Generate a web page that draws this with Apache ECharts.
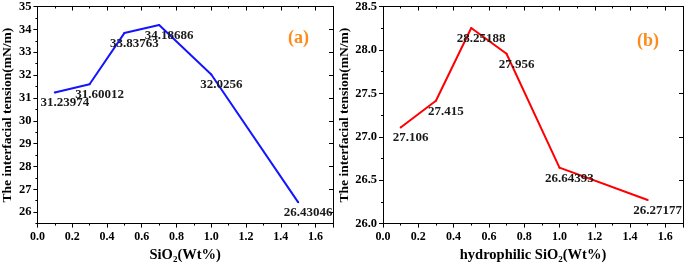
<!DOCTYPE html>
<html>
<head>
<meta charset="utf-8">
<script src="https://cdn.jsdelivr.net/npm/echarts@6/dist/echarts.min.js"></script>
<style>
  html, body { margin: 0; padding: 0; background: #fff; }
  #main { width: 685px; height: 269px; }
</style>
</head>
<body>
<div id="main"></div>
<script>
// SiO2 loading (Wt%)
const loading = [0.1, 0.3, 0.5, 0.7, 1.0, 1.5]
// interfacial tension (mN/m)
const tensionA = [31.23974, 31.60012, 33.83763, 34.18686, 32.0256, 26.43046]
const tensionB = [27.106, 27.415, 28.25188, 27.956, 26.64393, 26.27177]
// tick labels
const xTicks = [0, 0.2, 0.4, 0.6, 0.8, 1.0, 1.2, 1.4, 1.6]
const yTicksA = [26, 27, 28, 29, 30, 31, 32, 33, 34, 35]
const yTicksB = [26.0, 26.5, 27.0, 27.5, 28.0, 28.5]

const font = 'Liberation Serif, Times New Roman, serif'
const black = '#000'

let pairsA = loading.map((x, i) => [x, tensionA[i]])
let pairsB = loading.map((x, i) => [x, tensionB[i]])

function xAxisPair (grid, name) {
  let common = {
    type: 'value',
    gridIndex: grid,
    min: 0,
    max: 1.7,
    interval: 0.2,
    splitLine: { show: false },
    axisLine: { show: true, onZero: false, lineStyle: { color: black, width: 1 } },
    minorTick: { show: true, splitNumber: 2, length: 2, lineStyle: { color: black } }
  }
  return [
    Object.assign({}, common, {
      position: 'bottom',
      name: name,
      nameLocation: 'middle',
      nameGap: 21,
      nameTextStyle: {
        fontFamily: font,
        fontWeight: 'bold',
        fontSize: 14,
        color: black,
        rich: {
          t: { fontFamily: font, fontWeight: 'bold', fontSize: 14.5, color: black },
          s: { fontFamily: font, fontWeight: 'bold', fontSize: 9, color: black, padding: [9, 0, 0, 0] }
        }
      },
      axisTick: { show: true, inside: false, length: 4, lineStyle: { color: black } },
      axisLabel: {
        customValues: xTicks,
        margin: 7,
        fontFamily: font,
        fontWeight: 'bold',
        fontSize: 12,
        color: black,
        formatter: v => v.toFixed(1)
      }
    }),
    Object.assign({}, common, {
      position: 'top',
      axisTick: { show: true, inside: true, length: 4, lineStyle: { color: black } },
      minorTick: { show: true, splitNumber: 2, length: 2, lineStyle: { color: black } },
      axisLabel: { show: false }
    })
  ]
}

let yName = 'The interfacial tension(mN/m)'
let yNameStyle = { fontFamily: font, fontWeight: 'bold', fontSize: 13.5, color: black }
let yLabelStyle = { fontFamily: font, fontWeight: 'bold', fontSize: 12.5, color: black, margin: 6 }

function valueLabel () {
  return {
    show: true,
    position: 'bottom',
    distance: 3,
    offset: [10, 0],
    fontFamily: font,
    fontWeight: 'bold',
    fontSize: 13,
    color: '#1a1a1a',
    formatter: p => String(p.value[1])
  }
}

let option = {
  animation: false,
  backgroundColor: '#fff',
  grid: [
    { left: 35, right: 352, top: 5, bottom: 36 },
    { left: 383, right: 2, top: 5, bottom: 36 }
  ],
  xAxis: [
    ...xAxisPair(0, '{t|SiO}{s|2}{t|(Wt%)}'),
    ...xAxisPair(1, '{t|hydrophilic SiO}{s|2}{t|(Wt%)}')
  ],
  yAxis: [
    // chart (a): integer ticks + labels
    {
      type: 'value',
      gridIndex: 0,
      position: 'left',
      min: 25.5,
      max: 35,
      interval: 0.5,
      name: yName,
      nameLocation: 'middle',
      nameGap: 20,
      nameTextStyle: yNameStyle,
      splitLine: { show: false },
      axisLine: { show: true, onZero: false, lineStyle: { color: black } },
      axisTick: { show: true, customValues: yTicksA, length: 4, lineStyle: { color: black } },
      axisLabel: Object.assign({ customValues: yTicksA }, yLabelStyle)
    },
    // chart (a): half-unit minor ticks
    {
      type: 'value',
      gridIndex: 0,
      position: 'left',
      min: 25.5,
      max: 35,
      interval: 0.5,
      splitLine: { show: false },
      axisLine: { show: false },
      axisTick: { show: true, length: 2, lineStyle: { color: black } },
      axisLabel: { show: false }
    },
    // chart (a): right frame
    {
      type: 'value',
      gridIndex: 0,
      position: 'right',
      min: 25.5,
      max: 35,
      interval: 0.5,
      splitLine: { show: false },
      axisLine: { show: true, onZero: false, lineStyle: { color: black } },
      axisTick: { show: true, inside: true, customValues: yTicksA, length: 4, lineStyle: { color: black } },
      axisLabel: { show: false }
    },
    // chart (b)
    {
      type: 'value',
      gridIndex: 1,
      position: 'left',
      min: 26,
      max: 28.5,
      interval: 0.5,
      name: yName,
      nameLocation: 'middle',
      nameGap: 28,
      nameTextStyle: yNameStyle,
      splitLine: { show: false },
      axisLine: { show: true, onZero: false, lineStyle: { color: black } },
      axisTick: { show: true, length: 4, lineStyle: { color: black } },
      minorTick: { show: true, splitNumber: 2, length: 2, lineStyle: { color: black } },
      axisLabel: Object.assign({ customValues: yTicksB, formatter: v => v.toFixed(1) }, yLabelStyle)
    },
    {
      type: 'value',
      gridIndex: 1,
      position: 'right',
      min: 26,
      max: 28.5,
      interval: 0.5,
      splitLine: { show: false },
      axisLine: { show: true, onZero: false, lineStyle: { color: black } },
      axisTick: { show: true, inside: true, length: 4, lineStyle: { color: black } },
      minorTick: { show: false },
      axisLabel: { show: false }
    }
  ],
  graphic: [
    {
      type: 'text',
      left: 288,
      top: 29,
      style: { text: '(a)', fill: '#ff8a1c', font: 'bold 18px ' + font }
    },
    {
      type: 'text',
      left: 637,
      top: 32,
      style: { text: '(b)', fill: '#ff8a1c', font: 'bold 18px ' + font }
    }
  ],
  series: [
    {
      name: 'SiO2',
      type: 'line',
      xAxisIndex: 0,
      yAxisIndex: 0,
      data: pairsA,
      showSymbol: true,
      symbol: 'circle',
      symbolSize: 2,
      itemStyle: { color: '#1414ff' },
      lineStyle: { color: '#1414ff', width: 2 },
      label: valueLabel()
    },
    {
      name: 'hydrophilic SiO2',
      type: 'line',
      xAxisIndex: 2,
      yAxisIndex: 3,
      data: pairsB,
      showSymbol: true,
      symbol: 'circle',
      symbolSize: 2,
      itemStyle: { color: '#ff0000' },
      lineStyle: { color: '#ff0000', width: 2 },
      label: valueLabel()
    }
  ]
}

let myChart = echarts.init(document.getElementById('main'))
myChart.setOption(option)
</script>
</body>
</html>
